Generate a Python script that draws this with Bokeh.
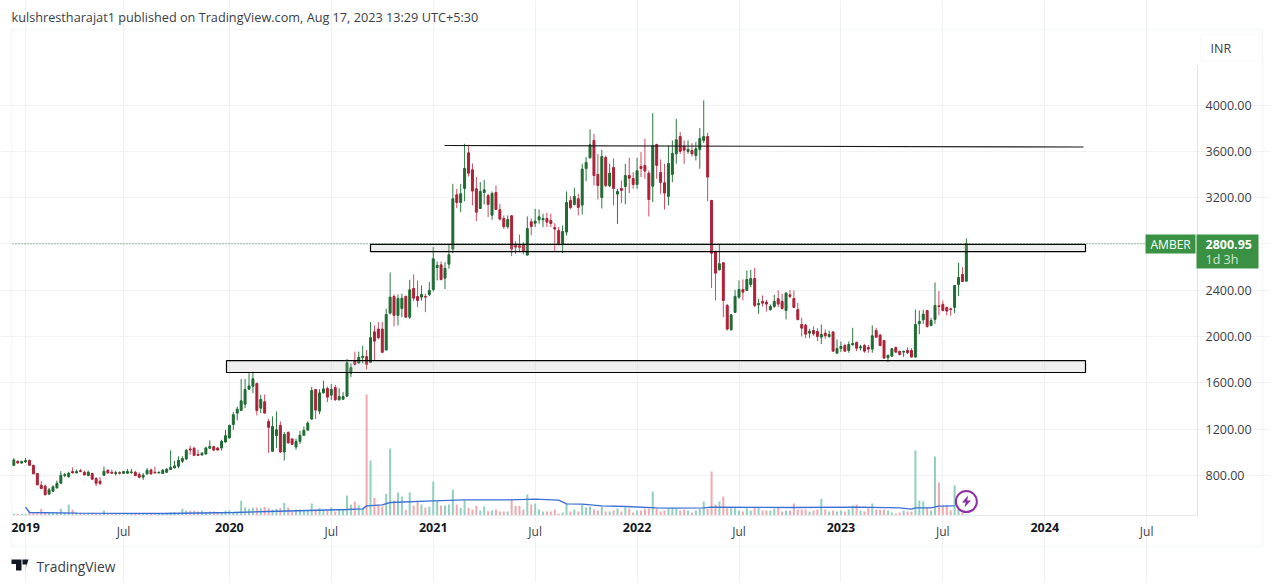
from bokeh.plotting import figure
from bokeh.embed import file_html
from bokeh.resources import INLINE
from bokeh.models import (Range1d, LinearAxis, FixedTicker, ColumnDataSource, Label,
                          BoxAnnotation, PolyAnnotation)

# weekly bars, index 0 = week of 17 Dec 2018 (price, INR)
opens = [887,922,907,916,930,887,816,715,707,638,663,692,732,798,790,833,821,841,827,798,
816,773,750,801,844,827,816,824,818,818,824,827,807,784,813,847,827,821,816,827,
850,864,879,922,942,1028,1034,982,976,985,1034,1048,1037,1037,1088,1123,1240,1338,1361,1415,
1545,1570,1593,1381,1436,1266,1008,1143,1232,1002,1171,1114,1045,1094,1146,1191,1286,1542,1355,1513,
1550,1493,1559,1453,1458,1484,1682,1789,1771,1817,1826,1777,2040,2064,2064,1883,2202,2346,2182,2242,
2346,2167,2415,2346,2340,2346,2363,2406,2596,2619,2504,2625,2755,3224,3158,3279,3587,3440,3276,3106,
3244,3218,3048,3244,3095,3020,2948,3043,2789,2785,2795,2703,2991,2979,3008,3008,3020,3002,2942,2916,
2795,2902,3175,3141,3190,3135,3452,3544,3694,3400,3201,3547,3302,3460,3230,3279,3296,3391,3365,3313,
3469,3478,3411,3299,3659,3417,3328,3210,3400,3578,3728,3645,3599,3607,3564,3616,3694,3728,3175,2732,
2576,2637,2268,2058,2208,2340,2406,2398,2449,2501,2274,2303,2297,2231,2259,2326,2303,2225,2360,2328,
2233,2104,2098,2029,2052,2043,1994,2029,2000,2040,1856,1896,1922,1879,1928,1948,1902,1922,1905,1891,
2052,2012,1966,1816,1830,1905,1871,1865,1879,1879,1822,2110,2144,2225,2095,2147,2265,2277,2251,2239,
2251,2449,2536,2478]
highs = [950,930,928,950,936,889,820,750,721,692,715,755,836,821,830,870,850,856,841,841,
824,784,784,876,853,850,841,836,836,856,856,839,827,821,864,859,876,833,856,864,
1016,925,965,965,1028,1057,1048,1022,1002,1048,1103,1057,1045,1108,1194,1237,1347,1395,1634,1634,
1682,1697,1602,1496,1499,1289,1309,1352,1266,1174,1180,1123,1117,1186,1223,1266,1565,1545,1545,1619,
1568,1590,1582,1553,1519,1806,1768,1869,1869,1921,1883,2124,2095,2124,2124,2239,2553,2363,2363,2369,
2354,2490,2536,2484,2441,2369,2470,2772,2648,2648,2642,2801,3319,3276,3319,3665,3656,3495,3377,3334,
3354,3233,3253,3305,3146,3046,3046,3046,2821,2881,2815,3037,3020,3103,3097,3060,3069,3060,2979,2945,
2959,3253,3210,3285,3233,3492,3550,3790,3751,3578,3613,3564,3492,3538,3276,3348,3492,3544,3420,3544,
3593,3708,3434,3930,3665,3529,3492,3650,3694,3880,3766,3694,3694,3670,3679,3800,4040,3760,3181,2743,
2801,2642,2282,2196,2403,2484,2493,2570,2576,2593,2326,2354,2317,2277,2360,2398,2369,2383,2403,2398,
2291,2161,2110,2066,2087,2072,2104,2061,2052,2040,1974,1957,1937,1957,2075,1957,1928,1937,1928,2095,
2075,2023,1966,1845,1902,1914,1879,1876,1905,1899,2233,2225,2231,2225,2161,2467,2392,2311,2259,2248,
2441,2637,2599,2847]
lows = [879,899,899,907,884,811,716,681,629,632,660,686,729,784,778,818,818,827,801,793,
761,707,715,798,816,813,798,807,816,816,813,793,773,761,804,804,816,818,813,821,
847,862,862,907,933,979,965,968,973,979,1028,1008,1014,1014,1083,1120,1194,1275,1358,1381,
1539,1510,1318,1338,1335,994,1005,1037,994,928,1077,1065,1022,1071,1143,1186,1283,1286,1329,1507,
1433,1450,1444,1447,1453,1481,1648,1748,1766,1768,1714,1770,1797,1975,1860,1880,2190,2087,2095,2167,
2161,2150,2305,2254,2311,2210,2349,2389,2484,2484,2409,2585,2720,3109,3074,3169,3383,3132,2997,3103,
3141,3031,3008,3095,3002,2928,2930,2694,2714,2729,2709,2700,2873,2945,2974,2945,2945,2945,2737,2786,
2720,2873,3103,3132,3046,3054,3342,3535,3305,3184,3106,3290,3290,3132,2974,3152,3141,3239,3276,3276,
3377,3362,3037,3161,3362,3233,3097,3132,3334,3492,3578,3492,3578,3555,3521,3449,3670,3170,2418,2311,
2570,2167,2052,2050,2207,2326,2311,2398,2426,2254,2196,2259,2216,2225,2248,2254,2231,2147,2331,2245,
2138,2000,1986,1986,2006,1960,1934,1980,1989,1870,1853,1865,1868,1859,1922,1873,1879,1859,1859,1859,
1989,1914,1810,1778,1827,1856,1836,1822,1848,1819,1819,2020,2110,2075,2087,2110,2182,2216,2182,2179,
2202,2349,2470,2475]
closes = [933,907,919,928,887,813,718,686,632,675,701,732,801,807,818,821,833,833,804,827,
767,732,729,836,821,818,824,818,833,833,830,798,784,801,844,813,821,827,844,853,
870,882,930,945,1016,1019,973,973,991,1037,1051,1019,1019,1094,1143,1232,1324,1372,1444,1542,
1573,1634,1361,1456,1338,1215,1223,1194,1002,1154,1080,1068,1094,1146,1189,1252,1533,1364,1513,1547,
1476,1542,1453,1481,1481,1774,1731,1760,1820,1829,1760,1990,1960,1990,1863,2190,2340,2182,2328,2331,
2167,2403,2331,2311,2363,2340,2398,2671,2614,2493,2588,2706,3190,3158,3233,3452,3411,3256,3074,3253,
3267,3141,3236,3097,3014,2948,3011,2755,2772,2770,2737,2933,2951,2997,3034,3020,2988,2976,2928,2795,
2907,3158,3112,3210,3115,3446,3504,3656,3391,3305,3555,3305,3411,3279,3253,3262,3391,3368,3313,3432,
3452,3429,3184,3650,3478,3331,3239,3495,3581,3699,3599,3610,3616,3578,3622,3711,3728,3377,2720,2547,
2628,2311,2064,2187,2346,2406,2383,2493,2501,2268,2285,2288,2280,2259,2303,2280,2242,2375,2346,2251,
2147,2072,2020,2046,2023,2000,2017,2006,2017,1873,1896,1914,1873,1931,1940,1899,1911,1873,1891,2006,
1994,1922,1813,1836,1894,1865,1845,1873,1859,1822,2104,2130,2193,2087,2138,2268,2259,2225,2219,2233,
2441,2510,2475,2801]
# volume per bar, 10k shares
volumes = [5,5,5,5,10,8,8,20,8,8,8,9,20,8,33,17,10,8,8,8,
8,6,6,15,6,6,5,5,6,6,5,5,5,5,5,5,5,6,6,8,
10,10,8,20,14,14,14,12,14,10,12,12,8,8,14,16,10,10,44,24,
20,24,24,22,26,22,18,20,22,38,24,12,18,18,16,14,36,18,22,16,
14,24,12,20,18,60,33,42,30,20,363,165,53,32,27,65,201,45,69,57,
17,69,30,40,33,24,27,102,43,30,30,33,78,33,23,45,23,18,29,15,
27,13,15,18,12,12,12,50,29,29,18,63,33,36,18,12,12,12,18,5,
9,35,12,18,12,33,24,27,18,15,27,12,12,15,21,12,24,21,9,15,
15,21,21,72,21,12,15,20,22,22,15,18,15,9,15,20,42,20,132,33,
42,57,22,22,22,15,12,22,15,25,25,15,15,15,20,25,12,15,15,36,
18,18,18,12,15,18,50,18,12,15,12,15,12,18,30,33,15,12,24,36,
18,18,18,15,9,6,9,15,12,12,195,45,42,24,15,177,99,30,30,15,
90,20,9,3]
# volume moving average, read at the bars where the line bends
ma_bars = [3,4,16,39,56,65,85,89,90,94,96,107,115,126,133,139,141,145,150,156,164,167,176,178,199,216,226,229,230,234,236,240]
ma_vals = [25,9,7,6,9,12,18,20,29,32,39,44,47,47,49,46,35,34,29,27,23,22,23,25,24,25,23,19,23,23,28,29]
grid_prices = [800,1200,1600,2000,2400,2800,3200,3600,4000]
price_ticks = [800,1200,1600,2000,2400,3200,3600,4000]
price_tick_labels = ["800.00","1200.00","1600.00","2000.00","2400.00","3200.00","3600.00","4000.00"]
year_bars = [3,55,107,159,211,263]
year_labels = ["2019","2020","2021","2022","2023","2024"]
jul_bars = [28,81,133,185,237,289]
jul_labels = ["Jul"]*6

FONT = "Open Sans"
UP, DOWN = "#1f6b33", "#ad2238"
UP_W, DOWN_W = "#2b7a40", "#cf4a62"
UP_V, DOWN_V = "#93d0c0", "#eeaab0"

# page-pixel -> data helpers for the page furniture
PX0, PX_STEP = 13.3, 3.92
PY0, PY_STEP = 104.5, 8.64
def dx(px): return (px - PX0) / PX_STEP
def dy(py): return 4000 - (py - PY0) * PY_STEP
W, H = 1270, 582

p = figure(width=W, height=H, output_backend="svg", toolbar_location=None,
           x_range=Range1d(dx(0), dx(W)), y_range=Range1d(dy(H), dy(0)),
           y_axis_location="right", min_border_left=0, min_border_right=0,
           min_border_top=0, min_border_bottom=0)
p.outline_line_color = None
p.background_fill_color = "white"
p.border_fill_color = "white"
p.extra_y_ranges = {"vol": Range1d(-3 * (H - 515), 3 * 515)}

# axes and grid: drawn on fixed positions inside the full-page frame
ya = p.yaxis[0]
ya.fixed_location = dx(1197)
ya.bounds = (dy(515), dy(65))
ya.ticker = FixedTicker(ticks=price_ticks)
ya.major_label_overrides = {t: s for t, s in zip(price_ticks, price_tick_labels)}
ya.major_tick_line_color = None
ya.minor_tick_line_color = None
ya.axis_line_color = "#e0e3e8"
ya.major_label_text_font = FONT
ya.major_label_text_font_size = "12.5px"
ya.major_label_text_color = "#3a3e48"
ya.major_label_standoff = 2

xa = p.xaxis[0]
xa.fixed_location = dy(515)
xa.bounds = (dx(12), dx(1197))
xa.ticker = FixedTicker(ticks=jul_bars)
xa.major_label_overrides = {t: s for t, s in zip(jul_bars, jul_labels)}
xa.major_tick_line_color = None
xa.minor_tick_line_color = None
xa.axis_line_color = "#e6e9ed"
xa.major_label_text_font = FONT
xa.major_label_text_font_size = "12px"
xa.major_label_text_color = "#3a3e48"
xa.major_label_standoff = 1

xb = LinearAxis(ticker=FixedTicker(ticks=year_bars), fixed_location=dy(515),
                major_label_overrides={t: s for t, s in zip(year_bars, year_labels)})
xb.bounds = (dx(12), dx(1197))
xb.major_tick_line_color = None
xb.minor_tick_line_color = None
xb.axis_line_color = None
xb.major_label_text_font = FONT
xb.major_label_text_font_size = "12.5px"
xb.major_label_text_font_style = "bold"
xb.major_label_text_color = "#131722"
xb.major_label_standoff = 1
p.add_layout(xb, "below")

p.ygrid.ticker = FixedTicker(ticks=grid_prices)
p.ygrid.grid_line_color = "#f2f3f5"
p.ygrid.bounds = (dx(12), dx(1197))
p.xgrid.ticker = FixedTicker(ticks=sorted(year_bars + jul_bars))
p.xgrid.grid_line_color = "#f0f1f3"
p.xgrid.bounds = (dy(515), dy(30))

bars = list(range(len(opens)))
up = [c >= o for o, c in zip(opens, closes)]
src = ColumnDataSource(dict(
    x=bars, o=opens, h=highs, l=lows, c=closes, v=volumes,
    top=[max(a, b) for a, b in zip(opens, closes)],
    bot=[min(a, b) for a, b in zip(opens, closes)],
    col=[UP if u else DOWN for u in up],
    wick=[UP_W if u else DOWN_W for u in up],
    vcol=[UP_V if u else DOWN_V for u in up]))

# volume
p.vbar(x="x", bottom=0, top="v", width=0.52, fill_color="vcol", line_color=None,
       source=src, y_range_name="vol")
p.line(ma_bars, ma_vals, line_color="#3b6fd6", line_width=1.4, y_range_name="vol")

# candles
p.segment(x0="x", x1="x", y0="l", y1="h", line_color="wick", line_width=1, source=src)
p.vbar(x="x", bottom="bot", top="top", width=0.5, fill_color="col", line_color="col",
       line_width=1, source=src)

# drawings
for y0, y1, x0 in [(2734, 2795, dx(370)), (1689, 1792, dx(226))]:
    p.quad(left=x0, right=dx(1085), bottom=y0, top=y1, fill_color="#b4b4b4", fill_alpha=0.22,
           line_color="#000000", line_width=1.2)
p.line([dx(444), dx(1083)], [3650, 3637], line_color="#1a1a1a", line_width=1.1)

# last-price line
p.line([dx(12), dx(1145)], [closes[-1], closes[-1]], line_color="#3a7a48", line_width=1, line_dash="1 2")

# purple bolt badge
p.scatter([243], [574], size=21, marker="circle", fill_color="white", line_color="#8e2fa5", line_width=2)
bx, by = 966, 501
p.patch([dx(bx + a) for a in (1.5, -4.5, -0.8, -2, 4.5, 0.8)],
        [dy(by + b) for b in (-6, 1, 1, 6, -1, -1)], fill_color="#8e2fa5", line_color=None)

# page furniture
p.add_layout(BoxAnnotation(left=dx(11), right=dx(1262), top=dy(29), bottom=dy(546),
                           fill_alpha=0, line_color="#e6e9ec", line_width=2, level="annotation"))
p.add_layout(BoxAnnotation(left=dx(1200), right=dx(1258), top=dy(34), bottom=dy(60),
                           fill_color="white", fill_alpha=1, line_color="#eceef1", line_width=1))
p.add_layout(BoxAnnotation(left=dx(1145), right=dx(1195), top=dy(234), bottom=dy(253),
                           fill_color="#3a9143", fill_alpha=1, line_color=None))
p.add_layout(BoxAnnotation(left=dx(1196), right=dx(1258), top=dy(234), bottom=dy(268),
                           fill_color="#3a9143", fill_alpha=1, line_color=None))

def text(px, py, s, size, color, style="normal", align="left"):
    p.add_layout(Label(x=dx(px), y=dy(py), text=s, text_font=FONT, text_font_size=size,
                       text_color=color, text_font_style=style, text_align=align,
                       text_baseline="middle"))
text(11, 16, "kulshrestharajat1 published on TradingView.com, Aug 17, 2023 13:29 UTC+5:30", "12.7px", "#3a3e48")
text(1210, 48, "INR", "12.5px", "#3a3e48")
text(1150, 244, "AMBER", "12px", "white")
text(1205, 244, "2800.95", "12.5px", "white", "bold")
text(1205, 259, "1d 3h", "12.5px", "#cfe8d1")
text(36, 566, "TradingView", "13.8px", "#3a3e48")

# TradingView logo
for xs, ys in [((11, 21, 21, 15.5, 15.5, 11), (559, 559, 570, 570, 563.5, 563.5)),
               ((22, 27, 32, 28, 24.5, 26, 22), (559, 559, 559, 559, 570, 564, 564))]:
    p.add_layout(PolyAnnotation(xs=[dx(a) for a in xs], ys=[dy(b) for b in ys],
                                fill_color="#131722", fill_alpha=1, line_color=None))

open("out.html", "w").write(file_html(p, INLINE))
